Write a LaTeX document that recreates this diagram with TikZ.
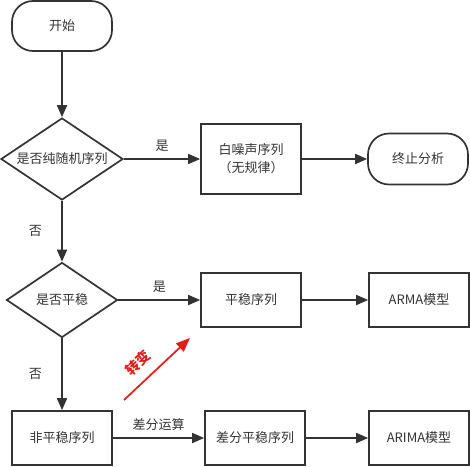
\documentclass[tikz,border=0pt]{standalone}
\usepackage{fontspec}
\newfontfamily\cjk{Noto Sans CJK SC}
\usetikzlibrary{arrows.meta,shapes.geometric}
\definecolor{linegray}{HTML}{333333}
\definecolor{turnred}{HTML}{E31A1A}
\tikzset{
  box/.style={draw=linegray, line width=1.7pt, minimum width=100pt, minimum height=54pt,
    inner sep=0pt, align=center, text=linegray, font=\cjk\fontsize{13}{18}\selectfont},
  term/.style={box, minimum height=50pt, rounded corners=21pt},
  choice/.style={diamond, aspect=1.5, draw=linegray, line width=1.7pt, inner sep=0pt,
    text=linegray, font=\cjk\fontsize{13}{18}\selectfont},
  flow/.style={draw=linegray, line width=1.7pt, -{Triangle[length=12pt,width=10pt]}},
  tag/.style={text=linegray, font=\cjk\fontsize{13}{18}\selectfont}
}
\begin{document}
\begin{tikzpicture}[x=1pt, y=-1pt]
		\useasboundingbox (0,0) rectangle (470,466);
		% first row
		\node [term] (start) at (62,26) {开始};
		\node [choice, minimum width=122pt, minimum height=82pt] (rand) at (62,159) {是否纯随机序列};
		\node [box, minimum height=70pt] (white) at (251,159) {白噪声序列\\（无规律）};
		\node [term, minimum height=51pt] (stop) at (418,159) {终止分析};
		% second row
		\node [choice, minimum width=111pt, minimum height=75pt] (stat) at (62,300) {是否平稳};
		\node [box] (statseq) at (251,300) {平稳序列};
		\node [box] (arma) at (419,300) {ARMA模型};
		% third row
		\node [box] (nonstat) at (62,438) {非平稳序列};
		\node [box] (diffseq) at (255,438) {差分平稳序列};
		\node [box] (arima) at (419,438) {ARIMA模型};

		\draw [flow] (start) -- (rand);
		\draw [flow] (rand) -- node [tag, above=3pt] {是} (white);
		\draw [flow] (white) -- (stop);
		\draw [flow] (rand) -- node [tag, left=16pt] {否} (stat);
		\draw [flow] (stat) -- node [tag, above=3pt] {是} (statseq);
		\draw [flow] (statseq) -- (arma);
		\draw [flow] (stat) -- node [tag, left=16pt] {否} (nonstat);
		\draw [flow] (nonstat) -- node [tag, above=3pt] {差分运算} (diffseq);
		\draw [flow] (diffseq) -- (arima);

		% red hint arrow
		\coordinate (turnA) at (124,400);
		\coordinate (turnB) at (190,338);
		\draw [draw=turnred, line width=1.7pt, -{Triangle[length=14pt,width=11pt]}] (turnA) -- (turnB);
		\node [rotate=43, text=turnred, inner sep=0pt, font=\cjk\bfseries\fontsize{14}{16}\selectfont] (turn) at (138,363) {转变};
	\end{tikzpicture}
\end{document}
